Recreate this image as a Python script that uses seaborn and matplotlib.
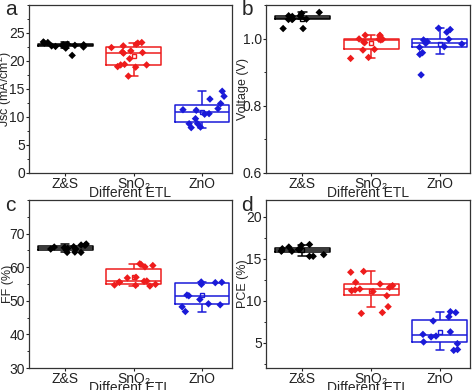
import numpy as np
import pandas as pd
import matplotlib
matplotlib.use("Agg")
import matplotlib.pyplot as plt
import seaborn as sns
from matplotlib.ticker import AutoMinorLocator

sns.set_theme(style="ticks")
plt.rcParams['font.family'] = ['Liberation Sans', 'DejaVu Sans']
plt.rcParams['mathtext.fontset'] = 'custom'
plt.rcParams['mathtext.rm'] = 'Liberation Sans'

categories = ["Z&S", "SnO₂", "ZnO"]
colors = ["#000000", "#ee1c1c", "#1a1ad8"]

jsc_zs = [23.0, 22.8, 22.6, 22.3, 22.5, 22.9, 23.3, 22.7, 23.2, 22.8, 23.4, 22.9, 21.0]
jsc_sno2 = [22.7, 23.3, 23.2, 22.4, 23.0, 21.6, 20.4, 21.4, 21.5, 21.8, 19.0, 18.9, 19.3, 19.4, 19.3, 17.3]
jsc_zno = [14.6, 13.7, 13.2, 12.4, 11.5, 11.2, 11.3, 10.6, 10.5, 9.7, 8.8, 8.8, 8.2, 8.1]

voc_zs = [1.058, 1.068, 1.078, 1.058, 1.066, 1.057, 1.068, 1.068, 1.057, 1.030, 1.030, 1.075]
voc_sno2 = [0.988, 0.996, 0.998, 1.008, 1.010, 1.010, 0.998, 0.990, 0.968, 0.966, 0.944, 0.941, 0.999]
voc_zno = [0.984, 0.991, 0.998, 1.019, 1.027, 1.031, 0.976, 0.974, 0.953, 0.986, 0.996, 0.892, 0.958]

ff_zs = [65.6, 65.4, 66.9, 66.1, 64.4, 64.5, 66.0, 66.5, 64.4, 65.4, 65.8, 66.6]
ff_sno2 = [60.1, 60.8, 60.5, 61.0, 56.8, 57.0, 55.5, 55.6, 55.8, 55.9, 54.9, 54.4, 54.6, 54.7]
ff_zno = [54.9, 55.5, 55.4, 55.6, 50.4, 51.5, 51.7, 48.2, 48.8, 49.1, 46.8]

pce_zs = [16.1, 15.9, 16.4, 15.3, 15.3, 16.6, 15.9, 16.7, 15.5, 16.1, 16.2, 16.0]
pce_sno2 = [11.2, 11.8, 11.1, 10.6, 12.2, 11.4, 12.0, 11.6, 13.5, 13.4, 9.3, 8.5, 8.6, 11.3]
pce_zno = [8.1, 8.6, 8.7, 7.6, 6.3, 6.0, 5.7, 5.8, 4.9, 5.1, 4.2, 4.1]

panels = [
    ("a", "Jsc (mA/cm$^2$)", [jsc_zs, jsc_sno2, jsc_zno], (0, 30), [0, 5, 10, 15, 20, 25]),
    ("b", "Voltage (V)", [voc_zs, voc_sno2, voc_zno], (0.6, 1.1), [0.6, 0.8, 1.0]),
    ("c", "FF (%)", [ff_zs, ff_sno2, ff_zno], (30, 80), [30, 40, 50, 60, 70]),
    ("d", "PCE (%)", [pce_zs, pce_sno2, pce_zno], (2, 22), [5, 10, 15, 20]),
]

fig = plt.figure(figsize=(4.74, 3.90), dpi=100)
W, H = 474, 390
boxes = [(29, 5, 232, 173), (266, 5, 470, 173), (29, 200, 232, 368), (266, 200, 470, 368)]
letter_pos = [(5, 0), (242, 0), (5, 196), (241, 196)]
ylabel_x = [14, 249, 14, 249]

np.random.seed(3)
for (letter, ylabel, groups, ylim, yticks), (l, t, r, b), (lx, ly), yx in zip(panels, boxes, letter_pos, ylabel_x):
    ax = fig.add_axes([l / W, 1 - b / H, (r - l) / W, (b - t) / H])
    df = pd.DataFrame({
        "ETL": np.concatenate([[c] * len(g) for c, g in zip(categories, groups)]),
        "val": np.concatenate(groups),
    })
    pal = dict(zip(categories, colors))
    sns.boxplot(data=df, x="ETL", y="val", hue="ETL", palette=pal, order=categories,
                width=0.8, fill=False, linewidth=1.1, showfliers=False,
                showmeans=True, whis=1.5, legend=False, ax=ax,
                meanprops=dict(marker="s", markersize=2.5, markerfacecolor="none"),
                capprops=dict(linewidth=1.1), capwidths=0.12)
    sns.stripplot(data=df, x="ETL", y="val", hue="ETL", palette=pal, order=categories,
                  jitter=0.34, marker="D", size=3.8, linewidth=0, legend=False, ax=ax)
    for i, ln in enumerate([ln for ln in ax.lines if ln.get_marker() == "s"]):
        ln.set_markeredgecolor(colors[i % 3])
    ax.set_xlim(-0.53, 2.44)
    ax.set_ylim(*ylim)
    ax.set_yticks(yticks)
    ax.yaxis.set_minor_locator(AutoMinorLocator(2))
    ax.set_xticks(range(3))
    ax.set_xticklabels(categories)
    ax.tick_params(axis="both", which="major", direction="out", length=2.5, width=0.8,
                   labelsize=10, pad=0.5, colors="#222222", labelcolor="#222222")
    ax.tick_params(axis="y", which="minor", direction="out", length=1.5, width=0.7)
    ax.set_xlabel("Different ETL", fontsize=10, labelpad=-4)
    ax.set_ylabel(ylabel, fontsize=9)
    ax.yaxis.set_label_coords((yx - l) / (r - l), 0.5)
    for s in ax.spines.values():
        s.set_linewidth(0.9)
        s.set_color("#333333")
    fig.text(lx / W, 1 - ly / H, letter, fontsize=15, va="top", ha="left")

fig.savefig("out.png", dpi=100)
